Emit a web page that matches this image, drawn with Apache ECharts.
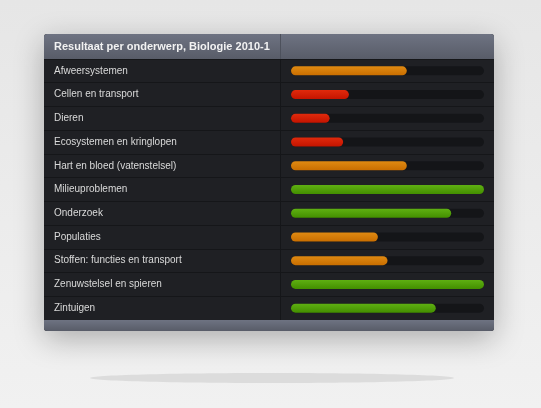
<!DOCTYPE html>
<html><head><meta charset="utf-8">
<script src="https://cdn.jsdelivr.net/npm/echarts@6/dist/echarts.min.js"></script>
<style>html,body{margin:0;padding:0;background:#ececec;}#c{width:541px;height:408px;}</style>
</head><body><div id="c"></div>
<script>
var title = 'Resultaat per onderwerp, Biologie 2010-1';
var categories = ['Afweersystemen','Cellen en transport','Dieren','Ecosystemen en kringlopen','Hart en bloed (vatenstelsel)','Milieuproblemen','Onderzoek','Populaties','Stoffen: functies en transport','Zenuwstelsel en spieren','Zintuigen'];
var scores = [60, 30, 20, 27, 60, 100, 83, 45, 50, 100, 75];

function barColor(v){
  var c;
  if (v < 40) c = ['#e02a0c','#c41400'];
  else if (v < 70) c = ['#e08a12','#c96e00'];
  else c = ['#5fb012','#438f00'];
  return new echarts.graphic.LinearGradient(0,0,0,1,[{offset:0,color:c[0]},{offset:1,color:c[1]}]);
}

var chart = echarts.init(document.getElementById('c'), null, {renderer:'canvas'});
chart.setOption({
  animation:false,
  backgroundColor: new echarts.graphic.LinearGradient(0,0,0,1,[{offset:0,color:'#e6e6e6'},{offset:1,color:'#f1f1f1'}]),
  graphic:[
    {type:'ellipse', shape:{cx:272,cy:378,rx:182,ry:5}, style:{fill:'#dcdcdc'}, z:0},
    {type:'rect', shape:{x:44,y:34,width:450,height:297,r:3}, style:{fill:'#1f2024', shadowBlur:30, shadowOffsetY:8, shadowColor:'rgba(0,0,0,0.28)'}, z:0},
    {type:'rect', shape:{x:44,y:34,width:450,height:25,r:[3,3,0,0]}, style:{fill:new echarts.graphic.LinearGradient(0,0,0,1,[{offset:0,color:'#6e7382'},{offset:1,color:'#585c68'}])}, z:1},
    {type:'rect', shape:{x:44,y:320,width:450,height:11,r:[0,0,3,3]}, style:{fill:new echarts.graphic.LinearGradient(0,0,0,1,[{offset:0,color:'#6e7382'},{offset:1,color:'#585c68'}])}, z:1},
    {type:'line', shape:{x1:280.5,y1:34,x2:280.5,y2:59}, style:{stroke:'#4d515c', lineWidth:1}, z:2},
    {type:'line', shape:{x1:280.5,y1:59,x2:280.5,y2:320}, style:{stroke:'#151619', lineWidth:1}, z:2},
    {type:'line', shape:{x1:44,y1:59.5,x2:494,y2:59.5}, style:{stroke:'#151619', lineWidth:1}, z:2},
    {type:'text', x:54, y:46.5, style:{text:title, fill:'#f2f2f2', font:'bold 11px "Liberation Sans", Arial, sans-serif', verticalAlign:'middle'}, z:3}
  ],
  grid:[
    {left:291, right:57, top:59, bottom:88},
    {left:44, right:47, top:59, bottom:88}
  ],
  xAxis:[
    {gridIndex:0, type:'value', min:0, max:100, show:false},
    {gridIndex:1, type:'value', min:0, max:100, show:false}
  ],
  yAxis:[
    {gridIndex:0, type:'category', inverse:true, data:categories,
     axisLine:{show:false}, axisTick:{show:false}, splitLine:{show:false},
     axisLabel:{align:'left', margin:237, color:'#dadada', fontSize:10, fontFamily:'"Liberation Sans", Arial, sans-serif'}},
    {gridIndex:1, type:'category', inverse:true, data:categories,
     axisLine:{show:false}, axisTick:{show:false}, axisLabel:{show:false},
     splitLine:{show:true, lineStyle:{color:'#151619', width:1}}}
  ],
  series:[
    {type:'bar', xAxisIndex:0, yAxisIndex:0, data:scores, barWidth:9, z:5,
     showBackground:true, backgroundStyle:{color:'#141518', borderRadius:4.5},
     itemStyle:{borderRadius:4.5, color:function(p){return barColor(p.value);}},
     silent:true}
  ]
});
</script></body></html>
